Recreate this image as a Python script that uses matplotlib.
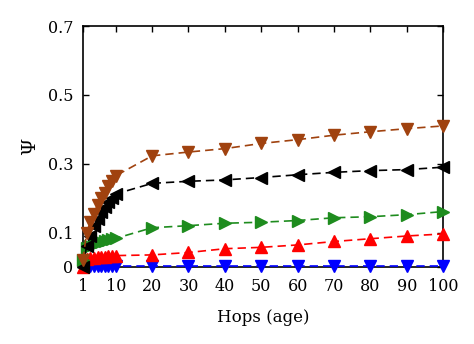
import matplotlib
matplotlib.use("Agg")
import matplotlib.pyplot as plt

plt.rcParams['font.family'] = ['DejaVu Serif']

hops = [1, 2, 3, 4, 5, 6, 7, 8, 9, 10, 20, 30, 40, 50, 60, 70, 80, 90, 100]

brown = [0.02, 0.10, 0.13, 0.155, 0.18, 0.20, 0.215, 0.235, 0.25, 0.265,
         0.323, 0.334, 0.344, 0.359, 0.37, 0.383, 0.393, 0.402, 0.41]
black = [0.0, 0.06, 0.09, 0.12, 0.14, 0.16, 0.175, 0.19, 0.20, 0.212,
         0.243, 0.249, 0.253, 0.26, 0.268, 0.275, 0.28, 0.283, 0.29]
green = [0.02, 0.055, 0.062, 0.066, 0.069, 0.072, 0.075, 0.077, 0.080, 0.083,
         0.114, 0.12, 0.127, 0.13, 0.135, 0.143, 0.146, 0.152, 0.161]
red = [0.0, 0.022, 0.025, 0.027, 0.028, 0.029, 0.030, 0.031, 0.032, 0.033,
       0.035, 0.042, 0.053, 0.057, 0.064, 0.074, 0.082, 0.09, 0.096]
blue = [0.003] * 19

series = [
    (blue, '#0000FF', 'v'),
    (red, '#FF0000', '^'),
    (green, '#1E8C1E', '>'),
    (black, '#000000', '<'),
    (brown, '#A0420F', 'v'),
]

fig = plt.figure(figsize=(4.74, 3.44), dpi=100)
ax = fig.add_axes([0.175, 0.224, 0.76, 0.70])

for vals, col, mk in series:
    ax.plot(hops, vals, color=col, linestyle=(0, (5, 3)), linewidth=1.2,
            marker=mk, markersize=8, markerfacecolor=col, markeredgecolor=col,
            clip_on=False, zorder=3)

ax.set_xlim(1, 100)
ax.set_ylim(0, 0.7)
ax.set_xticks([1, 10, 20, 30, 40, 50, 60, 70, 80, 90, 100])
ax.set_yticks([0, 0.1, 0.3, 0.5, 0.7])
ax.set_yticklabels(['0', '0.1', '0.3', '0.5', '0.7'])
ax.tick_params(direction='in', top=True, right=True, length=4, width=1,
               labelsize=11.5)
ax.tick_params(axis='x', pad=8)
ax.tick_params(axis='y', pad=7)
for s in ax.spines.values():
    s.set_linewidth(1.2)
ax.set_xlabel('Hops (age)', fontsize=12, labelpad=10)
ax.set_ylabel('Ψ', fontsize=14, labelpad=6)

fig.savefig('out.png', dpi=100)
